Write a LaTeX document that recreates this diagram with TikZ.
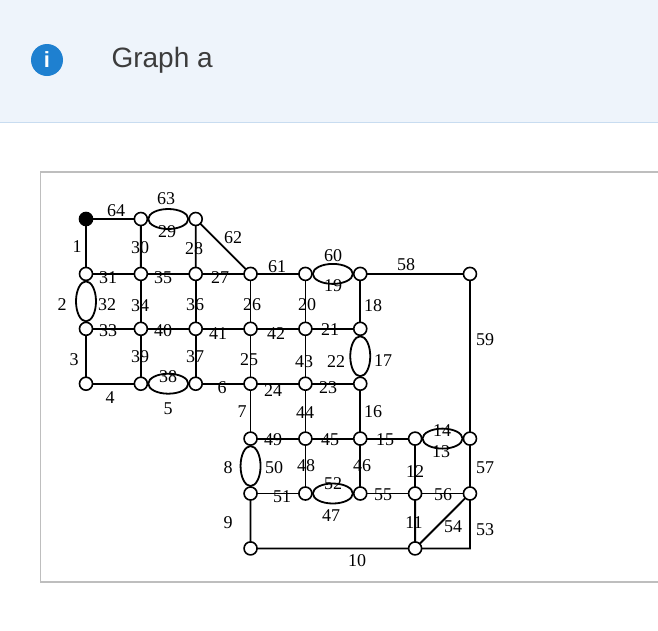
\documentclass[tikz,border=0pt]{standalone}
\usepackage{fontspec}
\usetikzlibrary{calc}
\setmainfont{Liberation Serif}
\newfontfamily\hdfont{Liberation Sans}
\begin{document}
\begin{tikzpicture}[x=1pt,y=-1pt,
  vtx/.style={circle,draw,fill=white,line width=1.6pt,minimum size=13pt,inner sep=0pt},
  fvtx/.style={vtx,fill=black},
  edge/.style={line width=1.8pt},
  lbl/.style={font=\fontsize{18}{18}\selectfont,inner sep=0pt}]
\useasboundingbox (0,0) rectangle (658,630);
\fill[white] (0,0) rectangle (658,630);
\fill[fill={rgb,255:red,238;green,244;blue,251}] (0,0) rectangle (658,122);
\draw[draw={rgb,255:red,200;green,220;blue,240},line width=1pt] (0,122) -- (658,122);
\node[circle,fill={rgb,255:red,30;green,128;blue,208},minimum size=32pt,inner sep=0pt,text=white,font=\hdfont\bfseries\fontsize{22}{22}\selectfont] (info) at (47,60) {i};
\node[anchor=west,font=\hdfont\fontsize{28}{28}\selectfont,text={rgb,255:red,60;green,60;blue,60}] (title) at (108,60) {Graph a};
\draw[draw={rgb,255:red,190;green,190;blue,190},line width=1.4pt] (660,172) -- (40.5,172) -- (40.5,582) -- (660,582);
\foreach \n/\c/\r in {a/1/0,b/2/0,
 c/0/1,d/1/1,e/2/1,f/3/1,g/4/1,h/5/1,i/7/1,
 j/0/2,k/1/2,l/2/2,m/3/2,n/4/2,o/5/2,
 p/0/3,q/1/3,r/2/3,s/3/3,t/4/3,u/5/3,
 v/3/4,w/4/4,x/5/4,y/6/4,z/7/4,
 A/3/5,B/4/5,C/5/5,D/6/5,E/7/5,
 F/3/6,G/6/6}
 \coordinate (\n) at ({86+54.85*\c},{219+54.9*\r});
\coordinate (s0) at (86,219);
\draw[edge] (s0)--(a) (s0)--(c);
\draw[edge] (a)--(d) (b)--(e) (b)--(f);
\draw[edge] (c)--(d)--(e)--(f)--(g) (h)--(i)--(z);
\draw[edge] (d)--(k) (e)--(l) (f)--(m) (g)--(n) (h)--(o);
\draw[edge] (j)--(k)--(l)--(m)--(n)--(o);
\draw[edge] (j)--(p) (k)--(q) (l)--(r) (m)--(s) (n)--(t);
\draw[edge] (p)--(q) (r)--(s)--(t)--(u);
\draw[edge] (s)--(v) (t)--(w) (u)--(x);
\draw[edge] (v)--(w)--(x)--(y);
\draw[edge] (w)--(B) (x)--(C) (y)--(D) (z)--(E);
\draw[edge] (A)--(B) (C)--(D)--(E);
\draw[edge] (A)--(F)--(G)--(D) (G)--(E) (E)|-(G);
\foreach \p/\q in {a/b,g/h,q/r,y/z,B/C}
  \draw[edge] ($(\p)!0.5!(\q)$) ellipse (20 and 10);
\foreach \p/\q in {c/j,o/u,v/A}
  \draw[edge] ($(\p)!0.5!(\q)$) ellipse (10 and 20);
\node[fvtx] at (s0) {};
\foreach \n in {a,b,c,d,e,f,g,h,i,j,k,l,m,n,o,p,q,r,s,t,u,v,w,x,y,z,A,B,C,D,E,F,G}
  \node[vtx] (N\n) at (\n) {};
\foreach \t/\px/\py in {64/116/211,63/166/199,29/167/232,1/77/247,30/140/248,28/194/249,62/233/238,
 31/108/278,35/163/278,27/220/278,61/277/267,60/333/256,19/333/286,58/406/265,
 2/62/305,32/107/305,34/140/306,36/195/305,26/252/305,20/307/305,18/373/306,59/485/340,
 33/108/331,40/163/331,41/218/334,42/276/334,21/330/330,
 3/74/360,39/140/357,37/195/357,25/249/360,43/304/362,22/336/362,17/383/361,
 4/110/398,38/168/377,5/168/409,6/222/388,24/273/391,23/328/388,
 7/242/412,44/305/413,16/373/412,
 49/273/440,45/330/440,15/385/440,14/442/431,13/441/452,
 8/228/468,50/274/468,48/306/466,46/362/466,12/415/472,57/485/468,
 51/282/497,52/333/484,47/331/516,55/383/495,56/443/495,
 9/228/523,11/414/523,54/453/527,53/485/530,10/357/561}
  \node[lbl] (L\t) at (\px,\py) {\t};
\end{tikzpicture}
\end{document}
